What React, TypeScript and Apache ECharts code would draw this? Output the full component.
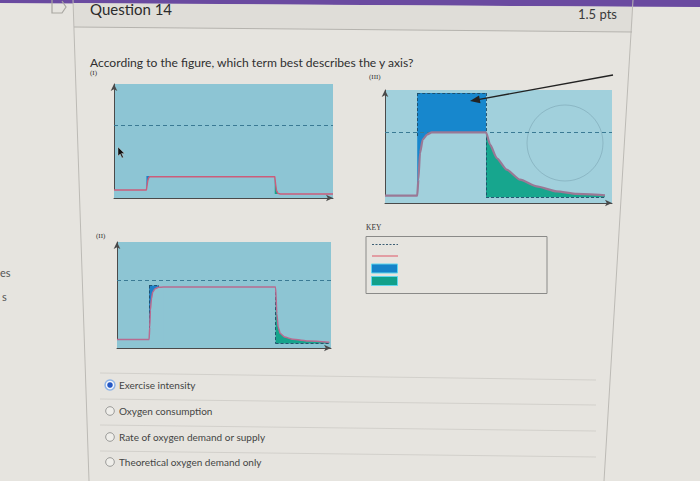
import React, { useEffect, useRef } from "react";
import * as echarts from "echarts";

// ---------- Panel (I): low-intensity exercise ----------
const timeI = [0, 14.8, 15.1, 15.4, 15.8, 16.3, 73.4, 73.8, 74.2, 74.9, 76, 100];
const consumptionI = [7, 7, 11, 15, 17.5, 18.7, 18.7, 12, 6.5, 4, 3.5, 3.5];
const demandI = [null, 19.3, 19.3, 19.3, 19.3, 19.3, null, null, null, null, null, null];
const vo2maxI = 63.4;
const exerciseEndI = 73.4;
const restLevelI = 3.5;

// ---------- Panel (II): moderate-intensity exercise ----------
const timeII = [0, 15.0, 15.3, 15.6, 16.1, 16.7, 17.8, 19.4, 21.7, 74.1, 74.7, 75.3, 76.3, 78.3, 82.1, 89.9, 99.2];
const consumptionII = [8, 8, 19.8, 35.6, 46.6, 52.9, 56, 57.2, 57.5, 57.5, 32.4, 19.8, 13.6, 10.4, 8.2, 6.6, 5.4];
const demandII = [null, 59, 59, 59, 59, 59, 59, 59, null, null, null, null, null, null, null, null, null];
const vo2maxII = 64;
const exerciseEndII = 74.1;
const restLevelII = 4.2;

// ---------- Panel (III): supramaximal exercise ----------
const timeIII = [0, 14.2, 14.7, 15.4, 16.6, 18.4, 20.6, 44.5, 46.3, 49.2, 53.6, 59.5, 66.8, 75.6, 84.4, 96.9];
const consumptionIII = [6.5, 6.5, 20.6, 44, 56, 60.4, 62.5, 62.5, 51.6, 39.8, 29.5, 20.6, 14.7, 10.3, 8, 6.7];
const demandIII = [null, 97.3, 97.3, 97.3, 97.3, 97.3, 97.3, 97.3, null, null, null, null, null, null, null, null];
const vo2maxIII = 62.5;
const exerciseEndIII = 44.5;
const restLevelIII = 5;

// ---------- Texts ----------
const questionTitle = "Question 14";
const questionPoints = "1.5 pts";
const questionText = "According to the figure, which term best describes the y axis?";
const panelLabels = ["(I)", "(II)", "(III)"];
const answerOptions = [
  "Exercise intensity",
  "Oxygen consumption",
  "Rate of oxygen demand or supply",
  "Theoretical oxygen demand only",
];
const selectedAnswer = 0;

const panels = [
  {
    time: timeI, cons: consumptionI, demand: demandI, vo2: vo2maxI, end: exerciseEndI, rest: restLevelI,
    grid: { left: 114, top: 84, width: 219, height: 114 }, bg: "#8dc5d4",
    xOff: 8, yOff: 8, line: "#cc5c7a", lw: 1.4, blue: "#1f80c6", teal: "#17a38b", smooth: false, edges: false, leftEdgeTo: 0,
  },
  {
    time: timeII, cons: consumptionII, demand: demandII, vo2: vo2maxII, end: exerciseEndII, rest: restLevelII,
    grid: { left: 117, top: 242, width: 214, height: 106 }, bg: "#8dc5d3",
    xOff: 7, yOff: 5, line: "#b86b90", lw: 1.5, blue: "#1c80c8", teal: "#15a48c", smooth: 0.2, edges: true, leftEdgeTo: 18,
  },
  {
    time: timeIII, cons: consumptionIII, demand: demandIII, vo2: vo2maxIII, end: exerciseEndIII, rest: restLevelIII,
    grid: { left: 385, top: 90, width: 227, height: 113 }, bg: "#a1d0dc",
    xOff: 8.5, yOff: 4, line: "#9a7895", lw: 2.2, blue: "#1787cd", teal: "#17a68e", smooth: 0.2, edges: true, leftEdgeTo: 58,
  },
];

function buildOption() {
  const grid: any[] = [];
  const xAxis: any[] = [];
  const yAxis: any[] = [];
  const series: any[] = [];
  const axisLine = {
    show: true,
    symbol: ["none", "arrow"],
    symbolSize: [5, 7],
    lineStyle: { color: "#4a4a4a", width: 1 },
  };

  panels.forEach((p, i) => {
    grid.push({ ...p.grid, show: true, backgroundColor: p.bg, borderWidth: 0 });
    xAxis.push({
      type: "value", gridIndex: i, min: 0, max: 100, offset: p.xOff,
      axisLine, axisTick: { show: false }, axisLabel: { show: false }, splitLine: { show: false },
    });
    yAxis.push({
      type: "value", gridIndex: i, min: 0, max: 100, offset: p.yOff,
      axisLine, axisTick: { show: false }, axisLabel: { show: false }, splitLine: { show: false },
    });

    const inDeficit = (k: number) => k >= 0 && k < p.demand.length && p.demand[k] != null;
    const consPts = p.time.map((t, k) => [t, p.cons[k]]);
    const demandPts = p.time.map((t, k) => (inDeficit(k) ? [t, p.demand[k]] : [t, "-"]));
    const maskPts = p.time.map((t, k) =>
      inDeficit(k) || inDeficit(k - 1) || inDeficit(k + 1) ? [t, p.cons[k]] : [t, "-"]
    );
    const epocPts = p.time.map((t, k) => (t >= p.end ? [t, p.cons[k]] : [t, "-"]));

    // Dashed outlines of deficit / EPOC regions
    const defIdx = p.demand.map((d, k) => (d == null ? -1 : k)).filter((k) => k >= 0);
    const tOn = p.time[defIdx[0]];
    const tDefEnd = p.time[defIdx[defIdx.length - 1]];
    const dem = p.demand[defIdx[0]] as number;
    const endIdx = p.time.findIndex((t) => t >= p.end);
    const tLast = p.time[p.time.length - 1];
    const edgeStyle = { type: [3, 2], color: "#1c4b68", width: 0.9 };
    const markData: any[] = [
      { yAxis: p.vo2, lineStyle: { type: [4, 3], color: "#3a7a94", width: 1 } },
    ];
    if (p.edges) {
      markData.push(
        [{ coord: [tOn, dem], lineStyle: edgeStyle }, { coord: [tDefEnd, dem] }],
        [{ coord: [tOn, dem], lineStyle: edgeStyle }, { coord: [tOn, p.leftEdgeTo] }],
        [{ coord: [tDefEnd, dem], lineStyle: edgeStyle }, { coord: [tDefEnd, p.cons[defIdx[defIdx.length - 1]]] }],
        [{ coord: [p.end, p.cons[endIdx]], lineStyle: edgeStyle }, { coord: [p.end, p.rest] }],
        [{ coord: [p.end, p.rest], lineStyle: edgeStyle }, { coord: [tLast, p.rest] }]
      );
    }

    // theoretical demand during the deficit phase, filled down to the axis
    series.push({
      type: "line", name: `demand${i}`, xAxisIndex: i, yAxisIndex: i,
      data: demandPts, symbol: "none",
      lineStyle: { width: 0, opacity: 0 }, areaStyle: { color: p.blue, opacity: 1, origin: "start" }, z: 1, silent: true,
    });
    // region under the consumption curve restores the plot background (leaves the deficit visible)
    series.push({
      type: "line", name: `mask${i}`, xAxisIndex: i, yAxisIndex: i,
      data: maskPts, symbol: "none", smooth: p.smooth, smoothMonotone: "x",
      lineStyle: { width: 0, opacity: 0 }, areaStyle: { color: p.bg, opacity: 1, origin: "start" }, z: 2, silent: true,
    });
    // EPOC
    series.push({
      type: "line", name: `epoc${i}`, xAxisIndex: i, yAxisIndex: i,
      data: epocPts, symbol: "none", smooth: p.smooth, smoothMonotone: "x",
      lineStyle: { width: 0, opacity: 0 }, areaStyle: { color: p.teal, opacity: 1, origin: p.rest }, z: 3, silent: true,
    });
    // oxygen consumption
    series.push({
      type: "line", name: `consumption${i}`, xAxisIndex: i, yAxisIndex: i,
      data: consPts, symbol: "none", smooth: p.smooth, smoothMonotone: "x",
      lineStyle: { color: p.line, width: p.lw }, z: 5, silent: true,
      markLine: { silent: true, symbol: "none", label: { show: false }, data: markData },
    });
  });

  const font = "Lato, 'Open Sans', sans-serif";
  const separators = [
    [100, 373, 596, 380],
    [100, 399, 596, 405],
    [100, 425, 596, 431],
    [100, 451, 596, 457],
  ];
  const optionY = [385, 411, 437, 462];

  const graphic: any[] = [
    { type: "polygon", shape: { points: [[0, 0], [700, 0], [700, 7], [0, 3]] }, style: { fill: "#6a4aa0" } },
    { type: "polygon", shape: { points: [[73, 3], [633, 7], [632, 32], [74, 27]] }, style: { fill: "#dfddd8" } },
    { type: "line", shape: { x1: 73, y1: 0, x2: 89, y2: 481 }, style: { stroke: "#bcbab5", lineWidth: 1 } },
    { type: "line", shape: { x1: 633, y1: 0, x2: 604, y2: 481 }, style: { stroke: "#bcbab5", lineWidth: 1 } },
    { type: "line", shape: { x1: 74, y1: 27, x2: 632, y2: 32 }, style: { stroke: "#b5b3ae", lineWidth: 1 } },
    { type: "polyline", shape: { points: [[52, 0], [52, 13], [62, 13], [66, 7], [62, 1]] }, style: { stroke: "#a9a7a2", fill: "none", lineWidth: 1.2 } },
    { type: "text", x: 90, y: 1, style: { text: questionTitle, fontSize: 15, fontFamily: font, fill: "#2b2b2b", verticalAlign: "top" } },
    { type: "text", x: 578, y: 7, style: { text: questionPoints, fontSize: 13, fontFamily: font, fill: "#3a3a3a", verticalAlign: "top" } },
    { type: "text", x: 90, y: 56, style: { text: questionText, fontSize: 12.1, fontFamily: font, fill: "#2f2f2f", verticalAlign: "top" } },
    { type: "text", x: 90, y: 69, style: { text: panelLabels[0], fontSize: 7, fontFamily: "serif", fill: "#333", verticalAlign: "top" } },
    { type: "text", x: 96, y: 232, style: { text: panelLabels[1], fontSize: 7, fontFamily: "serif", fill: "#333", verticalAlign: "top" } },
    { type: "text", x: 369, y: 73, style: { text: panelLabels[2], fontSize: 7, fontFamily: "serif", fill: "#333", verticalAlign: "top" } },
    // side nav remnants
    { type: "text", x: 0, y: 272, style: { text: "es", fontSize: 11, fontFamily: font, fill: "#555", verticalAlign: "middle" } },
    { type: "text", x: 2, y: 296, style: { text: "s", fontSize: 11, fontFamily: font, fill: "#555", verticalAlign: "middle" } },
    // KEY box
    { type: "text", x: 366, y: 223, style: { text: "KEY", fontSize: 7.5, fontFamily: "serif", fill: "#333", verticalAlign: "top" } },
    { type: "rect", shape: { x: 366, y: 236.5, width: 181, height: 57 }, style: { fill: "none", stroke: "#8a8a88", lineWidth: 1 } },
    { type: "line", shape: { x1: 372, y1: 244.5, x2: 398, y2: 244.5 }, style: { stroke: "#3d5f74", lineWidth: 1, lineDash: [2, 1.5] } },
    { type: "line", shape: { x1: 372, y1: 256, x2: 398, y2: 256 }, style: { stroke: "#e0868f", lineWidth: 1.5 } },
    { type: "rect", shape: { x: 371.5, y: 264, width: 26, height: 9 }, style: { fill: "#1583c9", stroke: "#5fd6ee", lineWidth: 1 } },
    { type: "rect", shape: { x: 371.5, y: 276.5, width: 26, height: 9 }, style: { fill: "#11a08a", stroke: "#5fd6ee", lineWidth: 1 } },
    // annotation arrow in (III)
    { type: "line", z: 100, shape: { x1: 613, y1: 75, x2: 478, y2: 99.6 }, style: { stroke: "#222", lineWidth: 1.4 } },
    { type: "polygon", z: 100, shape: { points: [[470, 101], [480.5, 103.2], [479, 95.4]] }, style: { fill: "#222" } },
    { type: "circle", z: 100, shape: { cx: 565, cy: 143, r: 38 }, style: { fill: "none", stroke: "rgba(60,90,110,0.28)", lineWidth: 0.8 } },
    // mouse cursor in (I)
    {
      type: "polygon", z: 100,
      shape: { points: [[118, 147], [118, 156], [120.2, 154], [122, 158], [123.4, 157.3], [121.6, 153.4], [124.5, 153.4]] },
      style: { fill: "#111", stroke: "#ddd", lineWidth: 0.4 },
    },
  ];

  separators.forEach(([x1, y1, x2, y2]) => {
    graphic.push({ type: "line", shape: { x1, y1, x2, y2 }, style: { stroke: "#d2d0cb", lineWidth: 1 } });
  });
  answerOptions.forEach((txt, k) => {
    const cy = optionY[k];
    if (k === selectedAnswer) {
      graphic.push({ type: "circle", shape: { cx: 110, cy, r: 5 }, style: { fill: "#f4f6fb", stroke: "#8fb4e6", lineWidth: 1.5 } });
      graphic.push({ type: "circle", shape: { cx: 110, cy, r: 2.8 }, style: { fill: "#2458c4" } });
    } else {
      graphic.push({ type: "circle", shape: { cx: 110, cy, r: 4.3 }, style: { fill: "#efeeea", stroke: "#9a9a98", lineWidth: 1 } });
    }
    graphic.push({
      type: "text", x: 119, y: cy,
      style: { text: txt, fontSize: 10, fontFamily: font, fill: "#444", verticalAlign: "middle" },
    });
  });

  return {
    animation: false,
    backgroundColor: "#e6e4df",
    grid,
    xAxis,
    yAxis,
    series,
    graphic,
  };
}

export default function App() {
  const ref = useRef<HTMLDivElement>(null);
  useEffect(() => {
    document.body.style.margin = "0";
    const chart = echarts.init(ref.current!, null, { renderer: "svg" });
    chart.setOption(buildOption() as any);
    return () => chart.dispose();
  }, []);
  return <div ref={ref} style={{ position: "absolute", left: 0, top: 0, width: 700, height: 481 }} />;
}
